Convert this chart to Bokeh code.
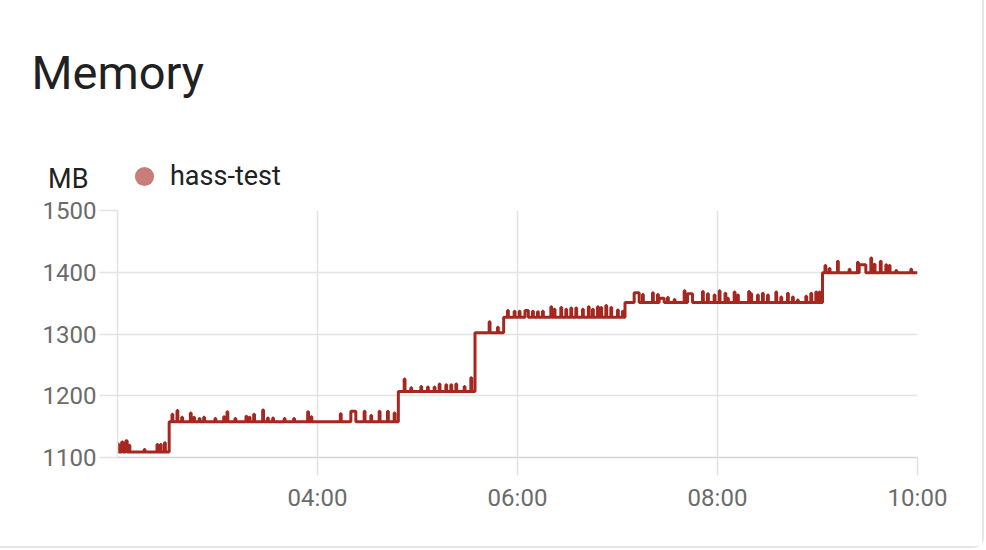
import pandas as pd
from bokeh.plotting import figure
from bokeh.layouts import column
from bokeh.models import (ColumnDataSource, FixedTicker, DatetimeTickFormatter,
                          Range1d, Title, Legend, LegendItem)
from bokeh.embed import file_html
from bokeh.resources import INLINE

# ---------------- data ----------------
START = "2024-01-01 02:00"
END = "2024-01-01 10:00"
SERIES = "hass-test"
TITLE = "Memory"
UNIT = "MB"

# memory level (MB) starting at given minute after 02:00
level_min = [0, 31, 168.5, 214.5, 231.7, 304.5, 423]
level_mb = [1109, 1158, 1207, 1302, 1327, 1351, 1399]

# short spikes: start minute, value (MB), duration (minutes)
spike_min = [0, 1.5, 2.5, 4, 5, 7, 16, 23.7, 25.7, 28.2,
             32.7, 35.7, 38.5, 43.7, 45.7, 49, 51.7, 58.5, 63.7, 65.7, 70.5, 77.1, 79, 81.7,
             87.1, 90, 93.1, 100, 105.7, 114.1, 116.1, 133.7, 140, 148, 152, 157, 162, 166,
             172, 176, 182, 186, 190, 193, 197, 200, 203, 208, 212,
             223, 228,
             234, 238, 241, 244.5, 249, 252, 255, 260, 262, 266, 269, 272, 275, 279, 282.5,
             285, 288, 290, 293, 296, 300, 303,
             310, 315, 321, 324, 325, 330, 334, 340, 342, 351, 354, 358, 361, 364.5, 366,
             370, 372, 378.7, 380, 384, 387, 390, 395, 398, 402, 405, 408, 413, 416, 419, 421,
             424.5, 427, 432, 439, 444, 445, 452, 454, 457.7, 461, 463, 467, 476]
spike_mb = [1122, 1116, 1125, 1113, 1127, 1120, 1113, 1121, 1121, 1124,
            1170, 1176, 1165, 1172, 1165, 1163, 1165, 1163, 1166, 1174, 1163, 1167, 1165, 1170,
            1177, 1164, 1164, 1163, 1163, 1174, 1166, 1171, 1175, 1175, 1168, 1175, 1175, 1172,
            1227, 1213, 1215, 1214, 1214, 1219, 1218, 1218, 1219, 1215, 1229,
            1320, 1311,
            1338, 1337, 1337, 1338, 1337, 1336, 1337, 1344, 1340, 1343, 1340, 1342, 1342, 1340, 1344,
            1340, 1344, 1343, 1346, 1343, 1339, 1337,
            1367, 1364, 1367, 1364, 1358, 1359, 1356, 1370, 1365, 1369, 1365, 1363, 1370, 1366, 1358,
            1368, 1363, 1369, 1365, 1363, 1366, 1363, 1368, 1360, 1366, 1360, 1355, 1361, 1366, 1368, 1368,
            1411, 1406, 1418, 1405, 1416, 1412, 1423, 1413, 1418, 1412, 1411, 1403, 1405]
spike_len = [0.7, 0.4, 0.7, 0.4, 0.8, 0.4, 0.5, 0.5, 0.5, 0.5,
             0.5, 0.5, 0.5, 0.5, 0.5, 0.5, 0.5, 0.5, 0.5, 0.5, 0.5, 0.5, 0.5, 0.5,
             0.5, 0.5, 0.5, 0.5, 0.5, 0.5, 0.5, 0.5, 3, 0.5, 0.5, 0.5, 0.5, 0.5,
             0.5, 0.5, 0.5, 0.5, 0.5, 0.5, 0.5, 0.5, 0.5, 0.5, 0.5,
             0.5, 0.5,
             0.5, 0.5, 0.5, 2, 0.5, 0.5, 0.5, 0.5, 0.5, 0.5, 0.5, 0.5, 0.5, 0.5, 0.5,
             0.5, 0.5, 0.5, 0.5, 0.5, 0.5, 0.5,
             3, 0.5, 0.5, 0.5, 3, 0.5, 0.5, 0.5, 3, 0.5, 0.5, 0.5, 0.5, 0.5, 0.5,
             0.5, 0.5, 0.5, 0.5, 0.5, 0.5, 0.5, 0.5, 0.5, 0.5, 0.5, 0.5, 0.5, 0.5, 0.5, 0.5,
             0.5, 0.5, 0.5, 0.5, 0.5, 4, 0.5, 0.5, 0.5, 0.5, 0.5, 0.5, 0.5]

tick_labels = ["04:00", "06:00", "08:00", "10:00"]
y_ticks = [1100, 1200, 1300, 1400, 1500]

# ---------------- build the step series from the arrays ----------------
def level_at(t):
    v = level_mb[0]
    for lt, lv in zip(level_min, level_mb):
        if lt <= t:
            v = lv
    return v

pts = list(zip(level_min, level_mb))
for t, v, d in zip(spike_min, spike_mb, spike_len):
    pts.append((t + 0.001, v))
    pts.append((t + d, level_at(t + d)))
pts.append((480, level_at(480)))
pts.sort(key=lambda p: p[0])
t0 = pd.Timestamp(START)
xs = [t0 + pd.Timedelta(minutes=float(t)) for t, _ in pts]
ys = [v for _, v in pts]
src = ColumnDataSource(dict(x=xs, y=ys))

def ms(ts):
    return (pd.Timestamp(ts) - pd.Timestamp("1970-01-01")) / pd.Timedelta(milliseconds=1)

x_tick_ms = [ms("2024-01-01 " + lab) for lab in tick_labels]

LINE = "#a5271f"
GRID = "#e3e3e3"
FONT = "Roboto"
TEXT = "#212121"

# ---------------- header: title, unit, legend ----------------
head = figure(x_axis_type="datetime", output_backend="svg", toolbar_location=None,
              x_axis_location=None, y_axis_location="left",
              frame_width=800, frame_height=40,
              min_border_left=117, min_border_right=65, min_border_top=158, min_border_bottom=0,
              x_range=Range1d(ms(START), ms(END)), y_range=Range1d(0, 1))
head.outline_line_color = None
head.grid.visible = False
head.yaxis.ticker = FixedTicker(ticks=[])
head.yaxis.axis_line_color = None
head.yaxis.major_tick_line_color = None
head.yaxis.minor_tick_line_color = None
head.yaxis.axis_label = UNIT
head.yaxis.axis_label_orientation = "horizontal"
head.yaxis.axis_label_standoff = 29
head.yaxis.axis_label_text_font = FONT
head.yaxis.axis_label_text_font_size = "27px"
head.yaxis.axis_label_text_font_style = "normal"
head.yaxis.axis_label_text_color = TEXT

# invisible renderer (size 0, outside the header range) that provides the legend dot
dot_r = head.scatter("x", "y", source=src, size=0, marker="circle", fill_color=LINE,
                     fill_alpha=0.6, line_color=None)
legend = Legend(items=[LegendItem(label=SERIES, renderers=[dot_r])],
                location=(3, -2), orientation="horizontal",
                glyph_width=48, glyph_height=48, label_standoff=2, padding=0, margin=0,
                spacing=0, border_line_color=None, background_fill_alpha=0,
                label_text_font=FONT, label_text_font_size="27px",
                label_text_color=TEXT)
head.add_layout(legend, "center")
# spacer between the frame and the card title, then the title itself
head.add_layout(Title(text=" ", align="left", standoff=51, text_font_size="1px"), "above")
head.add_layout(Title(text=TITLE, align="left", offset=-86, standoff=10,
                      text_font=FONT, text_font_size="47px", text_color=TEXT,
                      text_font_style="normal"), "above")

# ---------------- chart ----------------
p = figure(x_axis_type="datetime", output_backend="svg", toolbar_location=None,
           frame_width=800, frame_height=247,
           min_border_left=117, min_border_right=65, min_border_top=12, min_border_bottom=89,
           x_range=Range1d(ms(START), ms(END)), y_range=Range1d(1100, 1500))
p.outline_line_color = None

p.step("x", "y", source=src, mode="after", line_width=3, line_color=LINE)

p.xaxis.ticker = FixedTicker(ticks=x_tick_ms)
fmt = "%H:%M"
p.xaxis.formatter = DatetimeTickFormatter(hours=fmt, hourmin=fmt, minutes=fmt, minsec=fmt,
                                          days=fmt, months=fmt, years=fmt, seconds=fmt,
                                          milliseconds=fmt, microseconds=fmt)
p.yaxis.ticker = FixedTicker(ticks=y_ticks)
for ax in (p.xaxis, p.yaxis):
    ax.major_tick_in = 0
    ax.major_tick_out = 18
    ax.minor_tick_line_color = None
    ax.major_tick_line_color = GRID
    ax.major_tick_line_width = 1.5
    ax.major_label_text_font = FONT
    ax.major_label_text_font_size = "24px"
    ax.major_label_text_color = "#6b6b6b"
p.xaxis.axis_line_color = "#d2d2d2"
p.xaxis.axis_line_width = 1.5
p.yaxis.axis_line_color = GRID
p.yaxis.axis_line_width = 1.5
p.xaxis.major_label_standoff = 8
p.yaxis.major_label_standoff = 3

p.xgrid.ticker = FixedTicker(ticks=x_tick_ms)
p.ygrid.ticker = FixedTicker(ticks=y_ticks)
p.grid.grid_line_color = GRID
p.grid.grid_line_width = 1.5

layout = column(head, p, spacing=0)
layout.styles = {"border-right": "2px solid #e6e6e6", "border-bottom": "2px solid #e6e6e6",
                 "border-bottom-right-radius": "10px"}

open("out.html", "w").write(file_html(layout, INLINE))
